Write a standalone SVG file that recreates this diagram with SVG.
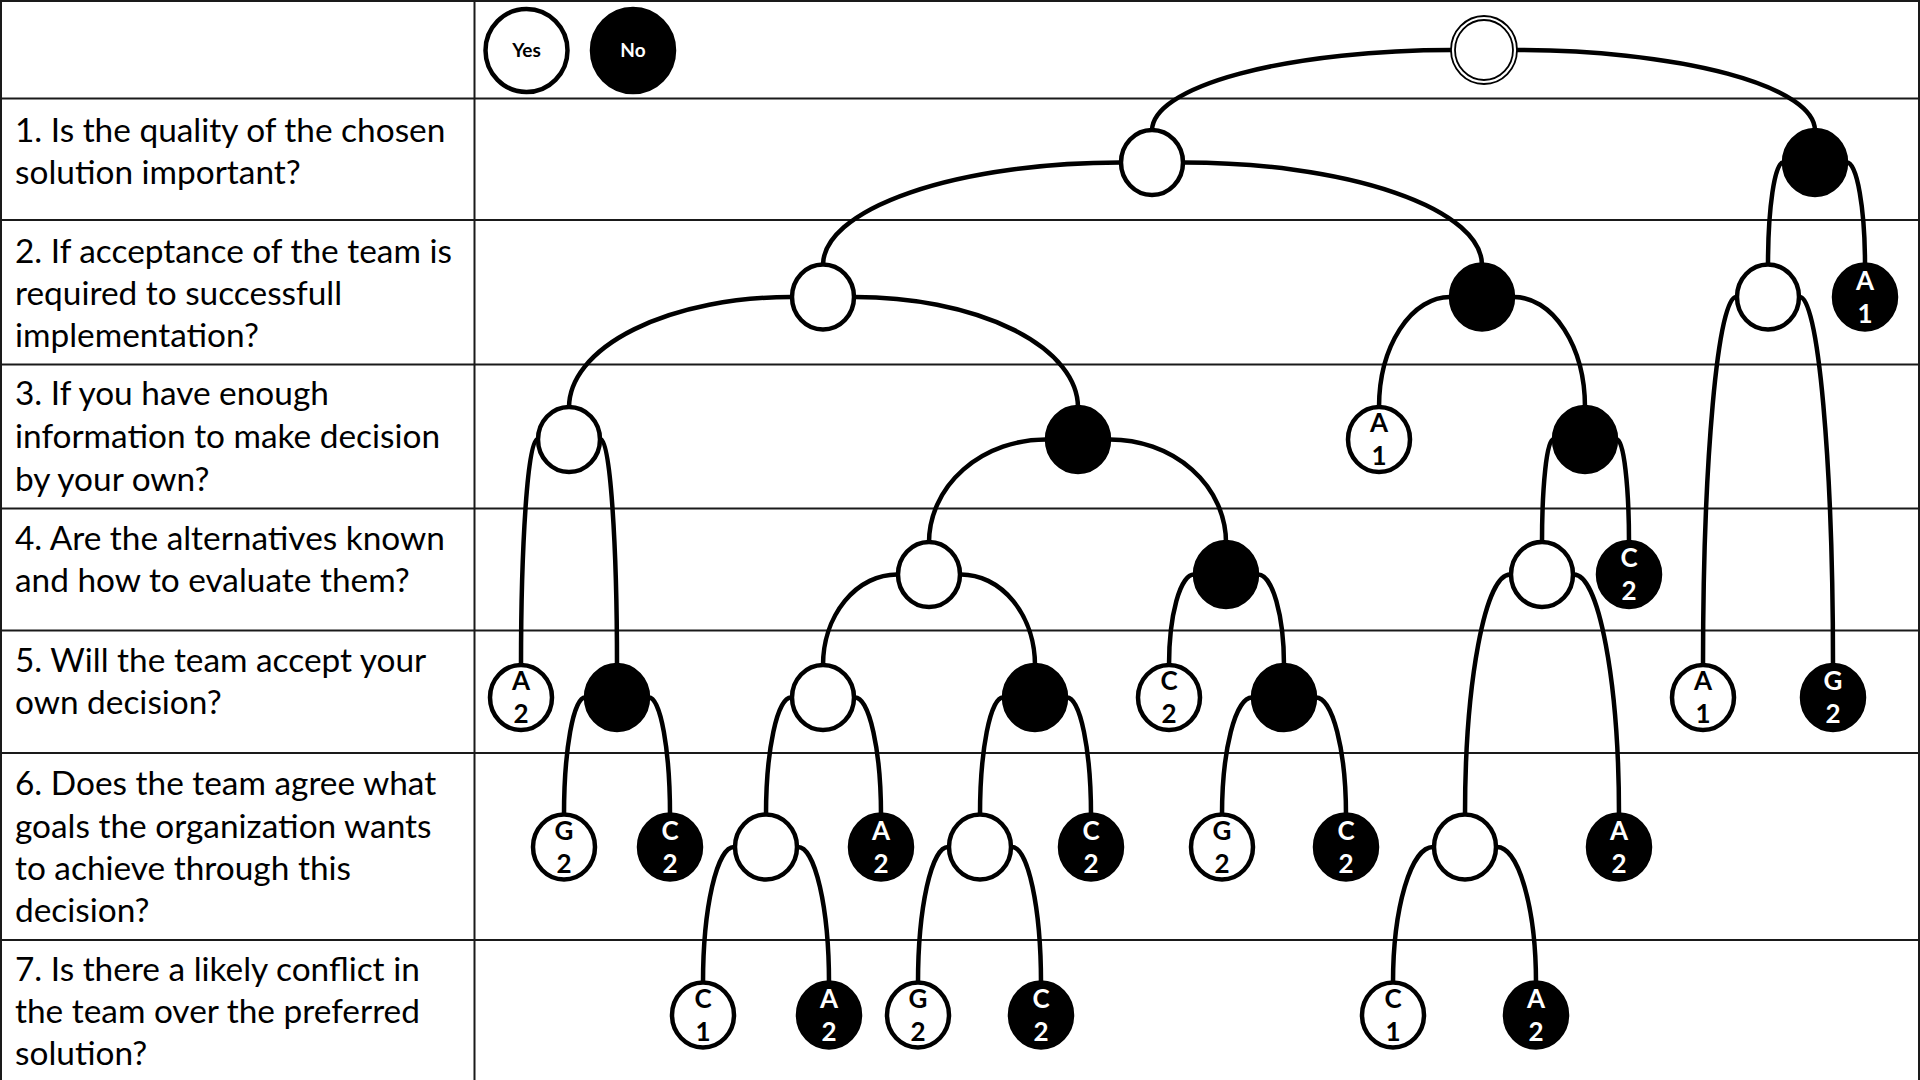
<svg xmlns="http://www.w3.org/2000/svg" width="1920" height="1080" viewBox="0 0 1920 1080">
<style>
.grid{stroke:#1a1a1a;stroke-width:2;fill:none}
.q{font-family:Lato,"Liberation Sans",sans-serif;font-size:33.4px;fill:#000}
.e{fill:none;stroke:#000;stroke-width:4.5}
.y{fill:#fff;stroke:#000;stroke-width:4.5}
.n{fill:#000;stroke:#000;stroke-width:4.5}
.ly{font-family:Lato,"Liberation Sans",sans-serif;font-weight:700;font-size:26px;fill:#000;text-anchor:middle}
.ln{font-family:Lato,"Liberation Sans",sans-serif;font-weight:700;font-size:26px;fill:#fff;text-anchor:middle}
.lg{font-family:Lato,"Liberation Sans",sans-serif;font-weight:700;font-size:19px;text-anchor:middle}
</style>
<rect width="1920" height="1080" fill="#fff"/>
<g id="table">
<path class="grid" d="M0 1H1920M1 0V1080M1919 0V1080M474.5 0V1080M0 98.5H1920M0 220H1920M0 364.5H1920M0 508.5H1920M0 630.5H1920M0 753H1920M0 940H1920"/>
</g>
<g id="questions">
<text class="q" x="15" y="141.5">1. Is the quality of the chosen</text>
<text class="q" x="15" y="183.5">solution important?</text>
<text class="q" x="15" y="263">2. If acceptance of the team is</text>
<text class="q" x="15" y="305">required to successfull</text>
<text class="q" x="15" y="347">implementation?</text>
<text class="q" x="15" y="405">3. If you have enough</text>
<text class="q" x="15" y="448">information to make decision</text>
<text class="q" x="15" y="491">by your own?</text>
<text class="q" x="15" y="549.5">4. Are the alternatives known</text>
<text class="q" x="15" y="592">and how to evaluate them?</text>
<text class="q" x="15" y="671.5">5. Will the team accept your</text>
<text class="q" x="15" y="714">own decision?</text>
<text class="q" x="15" y="795">6. Does the team agree what</text>
<text class="q" x="15" y="837.5">goals the organization wants</text>
<text class="q" x="15" y="879.5">to achieve through this</text>
<text class="q" x="15" y="922">decision?</text>
<text class="q" x="15" y="981">7. Is there a likely conflict in</text>
<text class="q" x="15" y="1023">the team over the preferred</text>
<text class="q" x="15" y="1065">solution?</text>
</g>
<g id="legend-yes"><ellipse class="y" cx="526.5" cy="50.5" rx="41" ry="41.5"/><text class="lg" x="526.5" y="57" fill="#000">Yes</text></g>
<g id="legend-no"><ellipse class="n" cx="633" cy="50.5" rx="41" ry="41.5"/><text class="lg" x="633" y="57" fill="#fff">No</text></g>
<g id="connectors">
<path class="e" d="M1452 50A300 80.5 0 0 0 1152 130.5"/>
<path class="e" d="M1516 50A299 80.5 0 0 1 1815 130.5"/>
<path class="e" d="M1120 162.5A297 102.5 0 0 0 823 265"/>
<path class="e" d="M1184 162.5A298 102.5 0 0 1 1482 265"/>
<path class="e" d="M1783 162.5A15 102.5 0 0 0 1768 265"/>
<path class="e" d="M1847 162.5A18 102.5 0 0 1 1865 265"/>
<path class="e" d="M791 297A222 110.5 0 0 0 569 407.5"/>
<path class="e" d="M855 297A223 110.5 0 0 1 1078 407.5"/>
<path class="e" d="M1450 297A71 110.5 0 0 0 1379 407.5"/>
<path class="e" d="M1514 297A71 110.5 0 0 1 1585 407.5"/>
<path class="e" d="M1736 297A33 368.5 0 0 0 1703 665.5"/>
<path class="e" d="M1800 297A33 368.5 0 0 1 1833 665.5"/>
<path class="e" d="M537 439.5A16 226 0 0 0 521 665.5"/>
<path class="e" d="M601 439.5A16 226 0 0 1 617 665.5"/>
<path class="e" d="M1046 439.5A117 103 0 0 0 929 542.5"/>
<path class="e" d="M1110 439.5A116 103 0 0 1 1226 542.5"/>
<path class="e" d="M1553 439.5A11 103 0 0 0 1542 542.5"/>
<path class="e" d="M1617 439.5A12 103 0 0 1 1629 542.5"/>
<path class="e" d="M897 574.5A74 91 0 0 0 823 665.5"/>
<path class="e" d="M961 574.5A74 91 0 0 1 1035 665.5"/>
<path class="e" d="M1194 574.5A25 91 0 0 0 1169 665.5"/>
<path class="e" d="M1258 574.5A26 91 0 0 1 1284 665.5"/>
<path class="e" d="M1510 574.5A45 240.5 0 0 0 1465 815"/>
<path class="e" d="M1574 574.5A45 240.5 0 0 1 1619 815"/>
<path class="e" d="M585 697.5A21 117.5 0 0 0 564 815"/>
<path class="e" d="M649 697.5A21 117.5 0 0 1 670 815"/>
<path class="e" d="M791 697.5A25 117.5 0 0 0 766 815"/>
<path class="e" d="M855 697.5A26 117.5 0 0 1 881 815"/>
<path class="e" d="M1003 697.5A23 117.5 0 0 0 980 815"/>
<path class="e" d="M1067 697.5A24 117.5 0 0 1 1091 815"/>
<path class="e" d="M1252 697.5A30 117.5 0 0 0 1222 815"/>
<path class="e" d="M1316 697.5A30 117.5 0 0 1 1346 815"/>
<path class="e" d="M734 847A31 136 0 0 0 703 983"/>
<path class="e" d="M798 847A31 136 0 0 1 829 983"/>
<path class="e" d="M948 847A30 136 0 0 0 918 983"/>
<path class="e" d="M1012 847A29 136 0 0 1 1041 983"/>
<path class="e" d="M1433 847A40 136 0 0 0 1393 983"/>
<path class="e" d="M1497 847A39 136 0 0 1 1536 983"/>
</g>
<g id="root"><ellipse cx="1484" cy="50" rx="33" ry="34" fill="#fff" stroke="#000" stroke-width="1.8"/><ellipse cx="1484" cy="50" rx="29" ry="30" fill="none" stroke="#000" stroke-width="1.8"/></g>
<g id="q1-yes"><ellipse class="y" cx="1152" cy="162.5" rx="31" ry="32.5"/></g>
<g id="q1-no"><ellipse class="n" cx="1815" cy="162.5" rx="31" ry="32.5"/></g>
<g id="q2-a"><ellipse class="y" cx="823" cy="297" rx="31" ry="32.5"/></g>
<g id="q2-b"><ellipse class="n" cx="1482" cy="297" rx="31" ry="32.5"/></g>
<g id="q2-c"><ellipse class="y" cx="1768" cy="297" rx="31" ry="32.5"/></g>
<g id="q2-d"><ellipse class="n" cx="1865" cy="297" rx="31" ry="32.5"/><text class="ln" x="1865" y="289.5">A</text><text class="ln" x="1865" y="322.5">1</text></g>
<g id="q3-a"><ellipse class="y" cx="569" cy="439.5" rx="31" ry="32.5"/></g>
<g id="q3-b"><ellipse class="n" cx="1078" cy="439.5" rx="31" ry="32.5"/></g>
<g id="q3-c"><ellipse class="y" cx="1379" cy="439.5" rx="31" ry="32.5"/><text class="ly" x="1379" y="432">A</text><text class="ly" x="1379" y="465">1</text></g>
<g id="q3-d"><ellipse class="n" cx="1585" cy="439.5" rx="31" ry="32.5"/></g>
<g id="q4-a"><ellipse class="y" cx="929" cy="574.5" rx="31" ry="32.5"/></g>
<g id="q4-b"><ellipse class="n" cx="1226" cy="574.5" rx="31" ry="32.5"/></g>
<g id="q4-c"><ellipse class="y" cx="1542" cy="574.5" rx="31" ry="32.5"/></g>
<g id="q4-d"><ellipse class="n" cx="1629" cy="574.5" rx="31" ry="32.5"/><text class="ln" x="1629" y="567">C</text><text class="ln" x="1629" y="600">2</text></g>
<g id="q5-a"><ellipse class="y" cx="521" cy="697.5" rx="31" ry="32.5"/><text class="ly" x="521" y="690">A</text><text class="ly" x="521" y="723">2</text></g>
<g id="q5-b"><ellipse class="n" cx="617" cy="697.5" rx="31" ry="32.5"/></g>
<g id="q5-c"><ellipse class="y" cx="823" cy="697.5" rx="31" ry="32.5"/></g>
<g id="q5-d"><ellipse class="n" cx="1035" cy="697.5" rx="31" ry="32.5"/></g>
<g id="q5-e"><ellipse class="y" cx="1169" cy="697.5" rx="31" ry="32.5"/><text class="ly" x="1169" y="690">C</text><text class="ly" x="1169" y="723">2</text></g>
<g id="q5-f"><ellipse class="n" cx="1284" cy="697.5" rx="31" ry="32.5"/></g>
<g id="q5-g"><ellipse class="y" cx="1703" cy="697.5" rx="31" ry="32.5"/><text class="ly" x="1703" y="690">A</text><text class="ly" x="1703" y="723">1</text></g>
<g id="q5-h"><ellipse class="n" cx="1833" cy="697.5" rx="31" ry="32.5"/><text class="ln" x="1833" y="690">G</text><text class="ln" x="1833" y="723">2</text></g>
<g id="q6-a"><ellipse class="y" cx="564" cy="847" rx="31" ry="32.5"/><text class="ly" x="564" y="839.5">G</text><text class="ly" x="564" y="872.5">2</text></g>
<g id="q6-b"><ellipse class="n" cx="670" cy="847" rx="31" ry="32.5"/><text class="ln" x="670" y="839.5">C</text><text class="ln" x="670" y="872.5">2</text></g>
<g id="q6-c"><ellipse class="y" cx="766" cy="847" rx="31" ry="32.5"/></g>
<g id="q6-d"><ellipse class="n" cx="881" cy="847" rx="31" ry="32.5"/><text class="ln" x="881" y="839.5">A</text><text class="ln" x="881" y="872.5">2</text></g>
<g id="q6-e"><ellipse class="y" cx="980" cy="847" rx="31" ry="32.5"/></g>
<g id="q6-f"><ellipse class="n" cx="1091" cy="847" rx="31" ry="32.5"/><text class="ln" x="1091" y="839.5">C</text><text class="ln" x="1091" y="872.5">2</text></g>
<g id="q6-g"><ellipse class="y" cx="1222" cy="847" rx="31" ry="32.5"/><text class="ly" x="1222" y="839.5">G</text><text class="ly" x="1222" y="872.5">2</text></g>
<g id="q6-h"><ellipse class="n" cx="1346" cy="847" rx="31" ry="32.5"/><text class="ln" x="1346" y="839.5">C</text><text class="ln" x="1346" y="872.5">2</text></g>
<g id="q6-i"><ellipse class="y" cx="1465" cy="847" rx="31" ry="32.5"/></g>
<g id="q6-j"><ellipse class="n" cx="1619" cy="847" rx="31" ry="32.5"/><text class="ln" x="1619" y="839.5">A</text><text class="ln" x="1619" y="872.5">2</text></g>
<g id="q7-a"><ellipse class="y" cx="703" cy="1015" rx="31" ry="32.5"/><text class="ly" x="703" y="1007.5">C</text><text class="ly" x="703" y="1040.5">1</text></g>
<g id="q7-b"><ellipse class="n" cx="829" cy="1015" rx="31" ry="32.5"/><text class="ln" x="829" y="1007.5">A</text><text class="ln" x="829" y="1040.5">2</text></g>
<g id="q7-c"><ellipse class="y" cx="918" cy="1015" rx="31" ry="32.5"/><text class="ly" x="918" y="1007.5">G</text><text class="ly" x="918" y="1040.5">2</text></g>
<g id="q7-d"><ellipse class="n" cx="1041" cy="1015" rx="31" ry="32.5"/><text class="ln" x="1041" y="1007.5">C</text><text class="ln" x="1041" y="1040.5">2</text></g>
<g id="q7-e"><ellipse class="y" cx="1393" cy="1015" rx="31" ry="32.5"/><text class="ly" x="1393" y="1007.5">C</text><text class="ly" x="1393" y="1040.5">1</text></g>
<g id="q7-f"><ellipse class="n" cx="1536" cy="1015" rx="31" ry="32.5"/><text class="ln" x="1536" y="1007.5">A</text><text class="ln" x="1536" y="1040.5">2</text></g>
</svg>
